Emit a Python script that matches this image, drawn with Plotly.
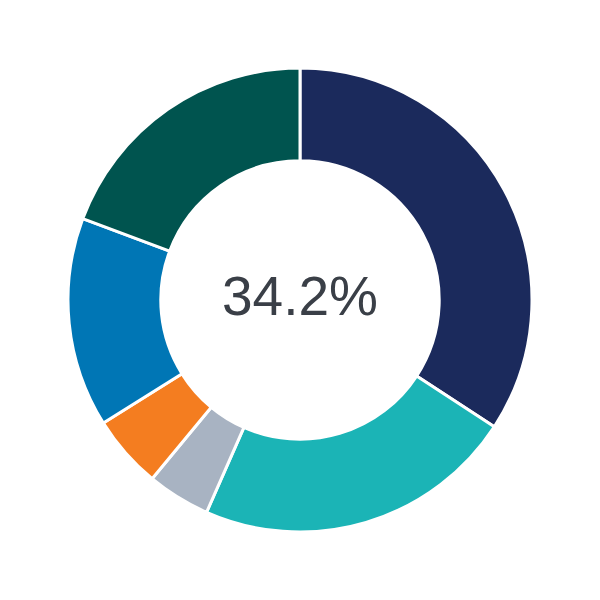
import plotly.graph_objects as go

labels = ["Segment A", "Segment B", "Segment C", "Segment D", "Segment E", "Segment F"]
values = [34.2, 22.4, 4.4, 5.1, 14.6, 19.3]
colors = ["#1B2A5C", "#1BB4B6", "#A8B3C2", "#F47D20", "#0076B5", "#00544F"]
center_text = "34.2%"

fig = go.Figure(go.Pie(
    labels=labels,
    values=values,
    hole=0.6,
    sort=False,
    direction="clockwise",
    rotation=0,
    marker=dict(colors=colors, line=dict(color="white", width=3)),
    textinfo="none",
    hoverinfo="label+percent",
    showlegend=False,
))

fig.add_annotation(
    text=center_text, x=0.5, y=0.5, xref="paper", yref="paper",
    showarrow=False, yshift=4,
    font=dict(family="Liberation Sans, Arial, sans-serif", size=55, color="#3A3F47"),
)

fig.update_layout(
    width=600, height=600,
    margin=dict(l=60, r=76, t=60, b=76),
    paper_bgcolor="white",
    plot_bgcolor="white",
)

fig.write_html("out.html")
